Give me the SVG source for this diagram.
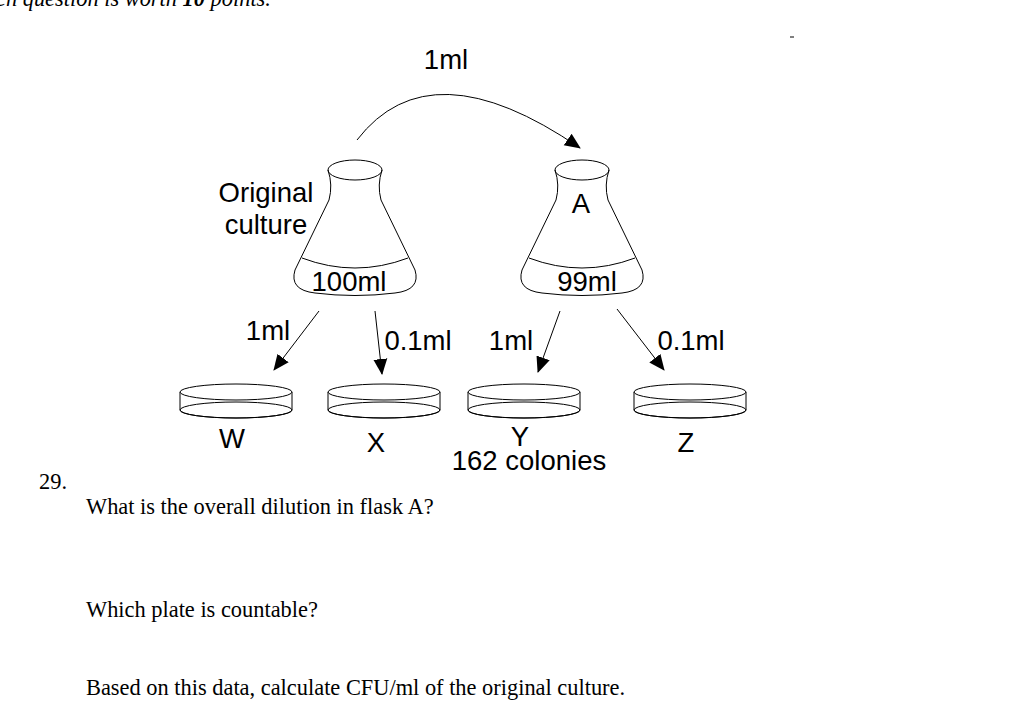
<svg xmlns="http://www.w3.org/2000/svg" width="1024" height="720" viewBox="0 0 1024 720">
<style>
.l{fill:none;stroke:#000;stroke-width:1}
.s{font-family:"Liberation Sans",Arial,sans-serif;font-size:27.5px;fill:#000}
.t{font-family:"Liberation Serif","Times New Roman",serif;font-size:22.4px;fill:#000}
.p{fill:#fff;stroke:#000;stroke-width:1}
</style>
<defs>
<marker id="a" markerWidth="16" markerHeight="16" refX="15" refY="7" orient="auto" markerUnits="userSpaceOnUse" viewBox="0 0 16 14"><path d="M0,0 L16,7 L0,14 z" fill="#000"/></marker>
<g id="flask">
<path class="l" d="M-27,0 Q-22,15 -26,30 L-60,100 Q-66,120 -40,123 Q0,128 40,123 Q66,120 60,100 L26,30 Q22,15 27,0"/>
<ellipse class="l" cx="0" cy="0" rx="27" ry="10"/>
<path class="l" d="M-53,88 Q0,108 53,88"/>
</g>
<g id="plate">
<path class="p" d="M-56,-9 L-56,9 A56,8 0 0 0 56,9 L56,-9"/>
<ellipse class="l" cx="0" cy="9" rx="56" ry="8"/>
<ellipse class="p" cx="0" cy="-9" rx="56" ry="8"/>
</g>
</defs>
<text class="t" x="-4" y="6" font-style="italic" font-size="24">ch question is worth <tspan font-weight="bold">10</tspan> points.</text>
<g id="flask-original"><use href="#flask" x="355" y="170"/>
<text class="s" x="266" y="202" text-anchor="middle">Original</text>
<text class="s" x="266" y="234" text-anchor="middle">culture</text>
<text class="s" x="349" y="291" text-anchor="middle">100ml</text></g>
<g id="flask-A"><use href="#flask" x="582" y="170"/>
<text class="s" x="581" y="213" text-anchor="middle">A</text>
<text class="s" x="587" y="291" text-anchor="middle">99ml</text></g>
<g id="plate-W"><use href="#plate" x="236" y="401"/><text class="s" x="232" y="448" text-anchor="middle">W</text></g>
<g id="plate-X"><use href="#plate" x="384" y="401"/><text class="s" x="376" y="452" text-anchor="middle">X</text></g>
<g id="plate-Y"><use href="#plate" x="524" y="401"/><text class="s" x="520" y="446" text-anchor="middle">Y</text><text class="s" x="529" y="470" text-anchor="middle">162 colonies</text></g>
<g id="plate-Z"><use href="#plate" x="690" y="401"/><text class="s" x="686" y="452" text-anchor="middle">Z</text></g>
<g id="connectors">
<path class="l" d="M357,140 Q430,45 580,148" marker-end="url(#a)"/>
<line class="l" x1="319" y1="311" x2="274" y2="370" marker-end="url(#a)"/>
<line class="l" x1="375" y1="311" x2="382" y2="374" marker-end="url(#a)"/>
<line class="l" x1="560" y1="311" x2="538" y2="372" marker-end="url(#a)"/>
<line class="l" x1="617" y1="309" x2="664" y2="370" marker-end="url(#a)"/>
</g>
<text class="s" x="446" y="69" text-anchor="middle">1ml</text>
<text class="s" x="268" y="340" text-anchor="middle">1ml</text>
<text class="s" x="418" y="350" text-anchor="middle">0.1ml</text>
<text class="s" x="511" y="350" text-anchor="middle">1ml</text>
<text class="s" x="691" y="350" text-anchor="middle">0.1ml</text>
<line x1="790" y1="37" x2="794" y2="37" stroke="#000" stroke-width="1"/>
<text class="t" x="39" y="489">29.</text>
<text class="t" x="86" y="514">What is the overall dilution in flask A?</text>
<text class="t" x="86" y="617">Which plate is countable?</text>
<text class="t" x="86" y="695">Based on this data, calculate CFU/ml of the original culture.</text>
</svg>
